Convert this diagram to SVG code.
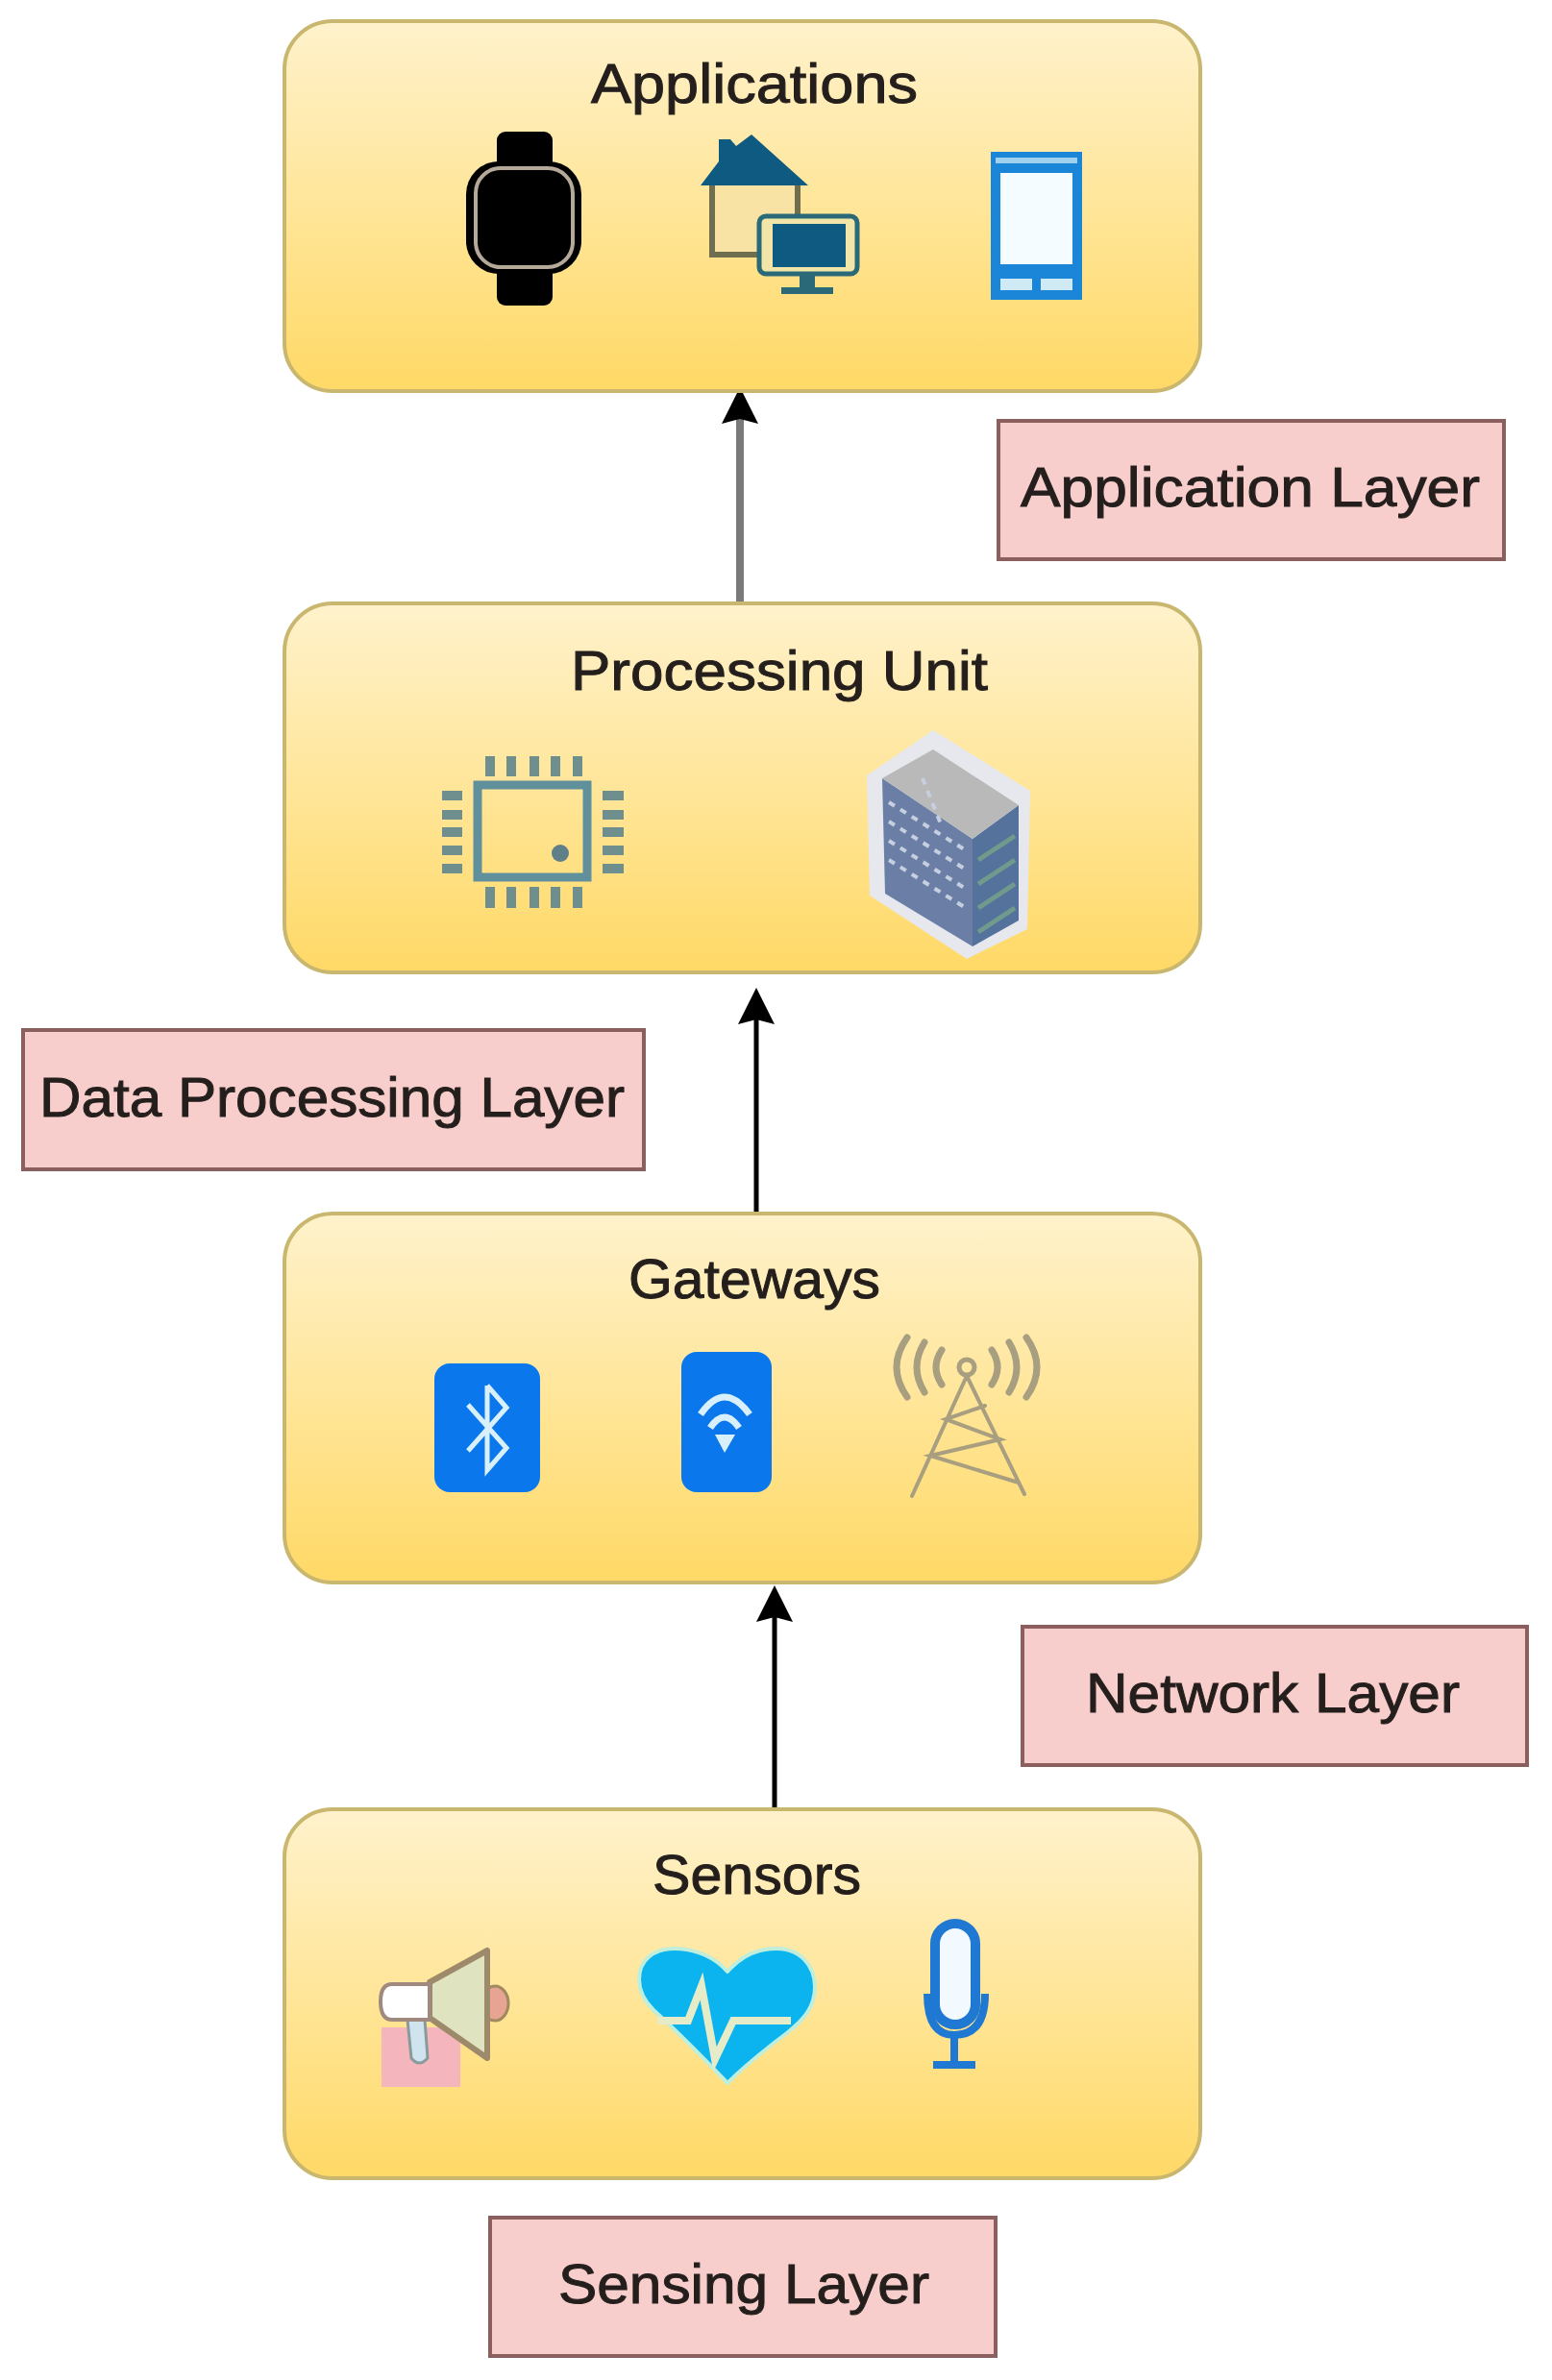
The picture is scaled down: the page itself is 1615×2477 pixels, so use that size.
<svg xmlns="http://www.w3.org/2000/svg" width="1615" height="2477" viewBox="0 0 1615 2477">
<defs>
<linearGradient id="gold" x1="0" y1="0" x2="0" y2="1"><stop offset="0" stop-color="#fff2cc"/><stop offset="1" stop-color="#ffd966"/></linearGradient>
<marker id="head" markerUnits="userSpaceOnUse" markerWidth="38" markerHeight="38" viewBox="0 0 38 38" refX="5" refY="19" orient="auto"><path d="M38,19 L0,0 L5,19 L0,38 Z" fill="#000"/></marker>
</defs>
<style>
.box{fill:url(#gold);stroke:#c9b76f;stroke-width:4}
.lab{fill:#f8cecc;stroke:#8c5f5f;stroke-width:4}
text{font-family:"Liberation Sans",Arial,sans-serif;font-size:58px;fill:#241f1c;stroke:#241f1c;stroke-width:1}
.conn{fill:none;stroke-width:5;stroke:#000;marker-end:url(#head)}
.pin{fill:#6f8f8f}
.t{fill:none;stroke:#a89e80;stroke-linecap:round}
</style>
<rect width="1615" height="2477" fill="#fff"/>
<g id="connectors">
<line class="conn" x1="770" y1="642" x2="770" y2="436" style="stroke:#7a7a7a;stroke-width:8"/>
<line class="conn" x1="787" y1="1265" x2="787" y2="1061"/>
<line class="conn" x1="806" y1="1886" x2="806" y2="1683"/>
</g>
<g id="applications">
<rect class="box" x="296" y="22" width="953" height="385" rx="50"/>
<text x="615" y="107" textLength="340" lengthAdjust="spacingAndGlyphs">Applications</text>
<g id="icon-watch">
<rect x="517" y="137" width="58" height="181" rx="9" fill="#000"/>
<rect x="485" y="168" width="120" height="117" rx="34" fill="#000"/>
<rect x="495" y="175" width="101" height="103" rx="26" fill="#000" stroke="#b5a99a" stroke-width="4"/>
</g>
<g id="icon-home-pc">
<rect x="741" y="190" width="89" height="75" fill="#f8e3a4" stroke="#6f6f4f" stroke-width="6"/>
<path d="M729,193 L748,168 L748,145 L760,145 L766,152 L782,140 L841,193 Z" fill="#0f5a80"/>
<rect x="790" y="225" width="102" height="60" rx="7" fill="#f1e6a8" stroke="#2a6a78" stroke-width="5"/>
<rect x="804" y="233" width="76" height="45" fill="#0f5a80"/>
<rect x="832" y="287" width="16" height="14" fill="#2a6a78"/>
<rect x="813" y="299" width="54" height="7" fill="#2a6a78"/>
</g>
<g id="icon-phone">
<rect x="1031" y="158" width="95" height="154" fill="#1b86d8"/>
<rect x="1036" y="164" width="85" height="6" fill="#9fd0ee"/>
<rect x="1041" y="180" width="75" height="95" fill="#f5fcff"/>
<rect x="1041" y="290" width="33" height="12" fill="#cfeaf5"/>
<rect x="1083" y="290" width="33" height="12" fill="#cfeaf5"/>
</g>
</g>
<g id="processing-unit">
<rect class="box" x="296" y="628" width="953" height="384" rx="50"/>
<text x="594" y="718" textLength="434" lengthAdjust="spacingAndGlyphs">Processing Unit</text>
<g id="icon-chip">
<rect x="497" y="817" width="114" height="96" fill="none" stroke="#5f909c" stroke-width="9"/>
<circle cx="583" cy="888" r="9" fill="#5f8088"/>
<g class="pin">
<rect x="505" y="787" width="10" height="21"/><rect x="527" y="787" width="10" height="21"/><rect x="551" y="787" width="10" height="21"/><rect x="573" y="787" width="10" height="21"/><rect x="596" y="787" width="10" height="21"/>
<rect x="505" y="923" width="10" height="22"/><rect x="527" y="923" width="10" height="22"/><rect x="551" y="923" width="10" height="22"/><rect x="573" y="923" width="10" height="22"/><rect x="596" y="923" width="10" height="22"/>
<rect x="460" y="823" width="21" height="10"/><rect x="460" y="843" width="21" height="10"/><rect x="460" y="861" width="21" height="10"/><rect x="460" y="880" width="21" height="10"/><rect x="460" y="899" width="21" height="10"/>
<rect x="627" y="823" width="22" height="10"/><rect x="627" y="843" width="22" height="10"/><rect x="627" y="861" width="22" height="10"/><rect x="627" y="880" width="22" height="10"/><rect x="627" y="899" width="22" height="10"/>
</g>
</g>
<g id="icon-server">
<path d="M971,760 L1072,823 L1069,967 L1006,998 L905,932 L902,807 Z" fill="#e6e8ee"/>
<path d="M918,810 L1012,873 L1012,985 L921,930 Z" fill="#6b7fa6"/>
<path d="M1012,873 L1060,838 L1060,958 L1012,985 Z" fill="#55729c"/>
<path d="M971,780 L918,810 L1012,873 L1060,838 Z" fill="#b9b9b9"/>
<path d="M960,810 L980,860 M925,835 L1005,885 M925,855 L1005,905 M925,875 L1005,925 M925,895 L1005,945" stroke="#c6cfdf" stroke-width="4" stroke-dasharray="7 7" fill="none"/>
<path d="M1018,895 L1056,870 M1018,920 L1056,895 M1018,945 L1056,920 M1018,970 L1056,945" stroke="#6f9a8c" stroke-width="5" fill="none"/>
</g>
</g>
<g id="gateways">
<rect class="box" x="296" y="1263" width="953" height="384" rx="50"/>
<text x="654" y="1351" textLength="262" lengthAdjust="spacingAndGlyphs">Gateways</text>
<g id="icon-bluetooth">
<rect x="452" y="1419" width="110" height="134" rx="16" fill="#0a78ec"/>
<path d="M507,1442 L507,1530 L527,1507 L487,1462 M507,1442 L527,1465 L487,1510" fill="none" stroke="#d8f0fb" stroke-width="5"/>
</g>
<g id="icon-wifi">
<rect x="709" y="1407" width="94" height="146" rx="16" fill="#0a78ec"/>
<path d="M729,1472 Q754,1436 780,1472 M739,1486 Q754,1464 769,1486" fill="none" stroke="#d8f0fb" stroke-width="7"/>
<path d="M744,1493 L765,1493 L754,1512 Z" fill="#d8f0fb"/>
</g>
<g id="icon-tower">
<circle class="t" cx="1006" cy="1423" r="8" stroke-width="5"/>
<path class="t" stroke-width="7" d="M980,1405 Q968,1423 980,1441 M962,1397 Q946,1423 962,1449 M944,1392 Q922,1423 944,1454 M1032,1405 Q1044,1423 1032,1441 M1050,1397 Q1066,1423 1050,1449 M1068,1392 Q1090,1423 1068,1454"/>
<path class="t" stroke-width="4" d="M1006,1432 L949,1557 M1006,1432 L1066,1555 M1025,1463 L984,1477 L1041,1498 L968,1515 L1060,1543"/>
</g>
</g>
<g id="sensors">
<rect class="box" x="296" y="1883" width="953" height="384" rx="50"/>
<text x="679" y="1971" textLength="217" lengthAdjust="spacingAndGlyphs">Sensors</text>
<g id="icon-megaphone">
<rect x="397" y="2110" width="82" height="62" fill="#f4b6bc"/>
<path d="M424,2102 L442,2102 L445,2142 Q436,2152 428,2142 Z" fill="#cfe4ee" stroke="#8a9a9a" stroke-width="3"/>
<ellipse cx="515" cy="2085" rx="14" ry="18" fill="#e8a492" stroke="#a08a60" stroke-width="3"/>
<path d="M447,2063 L507,2030 L507,2142 L447,2100 Z" fill="#dfe3c0" stroke="#9c8a6a" stroke-width="6" stroke-linejoin="round"/>
<path d="M447,2065 L408,2065 Q396,2065 396,2083 Q396,2102 408,2102 L447,2102 Z" fill="#fff" stroke="#a08a80" stroke-width="4"/>
</g>
<g id="icon-heart">
<path d="M757,2168 C735,2145 700,2110 680,2092 C668,2080 665,2070 665,2060 C665,2040 680,2028 702,2028 C725,2028 745,2038 757,2052 C769,2038 785,2028 808,2028 C832,2028 848,2045 848,2068 C848,2090 835,2103 820,2115 C800,2130 775,2150 757,2168 Z" fill="#0bb4ee" stroke="#bfeedc" stroke-width="4" stroke-linejoin="round"/>
<path d="M684,2103 L716,2103 L730,2067 L744,2143 L763,2103 L823,2103" fill="none" stroke="#e6ecc8" stroke-width="8"/>
</g>
<g id="icon-mic">
<path d="M965,2075 Q965,2118 993,2118 Q1025,2118 1025,2075" fill="none" stroke="#1f78d1" stroke-width="8"/>
<rect x="973" y="2002" width="42" height="105" rx="21" fill="#f2faff" stroke="#1f78d1" stroke-width="10"/>
<rect x="989" y="2118" width="8" height="30" fill="#1f78d1"/>
<rect x="971" y="2145" width="44" height="8" fill="#1f78d1"/>
</g>
</g>
<g id="label-application"><rect class="lab" x="1039" y="438" width="526" height="144"/><text x="1062" y="527" textLength="478" lengthAdjust="spacingAndGlyphs">Application Layer</text></g>
<g id="label-data"><rect class="lab" x="24" y="1072" width="646" height="145"/><text x="41" y="1162" textLength="609" lengthAdjust="spacingAndGlyphs">Data Processing Layer</text></g>
<g id="label-network"><rect class="lab" x="1064" y="1693" width="525" height="144"/><text x="1130" y="1782" textLength="389" lengthAdjust="spacingAndGlyphs">Network Layer</text></g>
<g id="label-sensing"><rect class="lab" x="510" y="2308" width="526" height="144"/><text x="581" y="2397" textLength="386" lengthAdjust="spacingAndGlyphs">Sensing Layer</text></g>
</svg>
